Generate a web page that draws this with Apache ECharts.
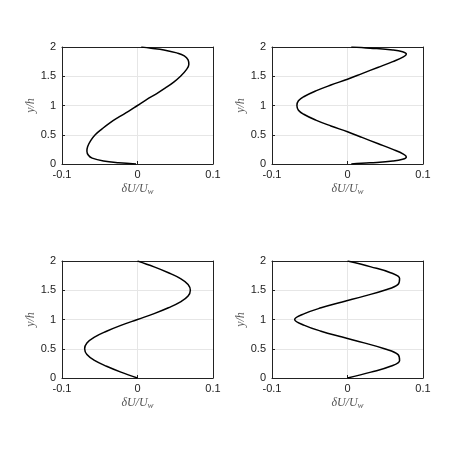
<!DOCTYPE html><html><head><meta charset="utf-8"><script src="https://cdn.jsdelivr.net/npm/echarts@6/dist/echarts.min.js"></script></head><body style="margin:0;background:#fff"><div id="c" style="width:474px;height:451px"></div><script>
const yTL=[0,0.02,0.05,0.1,0.15,0.22,0.3,0.4,0.5,0.6,0.7,0.8,0.9,1.0,1.1,1.2,1.3,1.4,1.5,1.6,1.7,1.78,1.85,1.9,1.95,1.98,2.0];
const xTL=[-0.002,-0.025,-0.045,-0.06,-0.065,-0.067,-0.066,-0.062,-0.056,-0.047,-0.037,-0.025,-0.012,0,0.012,0.025,0.037,0.048,0.057,0.064,0.068,0.067,0.062,0.052,0.035,0.018,0.005];
const yTR=[0,0.02,0.05,0.08,0.12,0.17,0.25,0.35,0.45,0.55,0.65,0.75,0.85,0.92,1.0,1.08,1.15,1.25,1.35,1.45,1.55,1.65,1.75,1.83,1.88,1.92,1.95,1.98,2.0];
const xTR=[0.005,0.03,0.06,0.073,0.078,0.074,0.06,0.04,0.02,0,-0.022,-0.042,-0.058,-0.065,-0.067,-0.065,-0.058,-0.042,-0.022,0,0.02,0.04,0.06,0.074,0.078,0.073,0.06,0.03,0.005];
const yB=[0,0.1,0.2,0.3,0.4,0.5,0.6,0.7,0.8,0.9,1.0,1.1,1.2,1.3,1.4,1.5,1.6,1.7,1.8,1.9,2.0];
const xBL=[0,-0.022,-0.041,-0.057,-0.067,-0.07,-0.067,-0.057,-0.041,-0.022,0,0.022,0.041,0.057,0.067,0.07,0.067,0.057,0.041,0.022,0];
const xBR=[0,0.031,0.057,0.069,0.067,0.049,0.022,-0.007,-0.035,-0.057,-0.07,-0.057,-0.035,-0.007,0.022,0.049,0.067,0.069,0.057,0.031,0];
const xTicks=[-0.1,0,0.1], yTicks=[0,0.5,1,1.5,2];
const panels=[[xTL,yTL,62,47],[xTR,yTR,272,47],[xBL,yB,62,261],[xBR,yB,272,261]];
const lbl={color:'#222',fontSize:11,fontFamily:'Liberation Sans'};
const nm={fontFamily:'Liberation Serif',fontStyle:'italic',fontSize:12,color:'#555'};
const opt={animation:false,grid:[],xAxis:[],yAxis:[],series:[]};
panels.forEach((p,i)=>{
 opt.grid.push({left:p[2],top:p[3],width:151,height:117});
 opt.xAxis.push({type:'value',gridIndex:i,min:-0.1,max:0.1,interval:0.1,name:'δU/U{s|w}',nameLocation:'middle',nameGap:17,nameTextStyle:Object.assign({rich:{s:Object.assign({},nm,{fontSize:9,padding:[6,0,0,0]})}},nm),
  axisLine:{lineStyle:{color:'#222'}},axisTick:{inside:true,length:3},axisLabel:Object.assign({margin:5,formatter:v=>v===0?'0':String(v)},lbl),
  splitLine:{show:true,lineStyle:{color:'#e6e6e6'}}});
 opt.yAxis.push({type:'value',gridIndex:i,min:0,max:2,interval:0.5,name:'y/h',nameLocation:'middle',nameGap:24,nameTextStyle:nm,
  axisLine:{lineStyle:{color:'#222'}},axisTick:{inside:true,length:3},axisLabel:Object.assign({margin:6},lbl),
  splitLine:{show:true,lineStyle:{color:'#e6e6e6'}}});
 opt.xAxis.push({type:'value',gridIndex:i,position:'top',min:-0.1,max:0.1,axisLine:{show:true,onZero:false,lineStyle:{color:'#222'}},axisTick:{show:false},axisLabel:{show:false},splitLine:{show:false}});
 opt.yAxis.push({type:'value',gridIndex:i,position:'right',min:0,max:2,axisLine:{show:true,onZero:false,lineStyle:{color:'#222'}},axisTick:{show:false},axisLabel:{show:false},splitLine:{show:false}});
 opt.series.push({type:'line',xAxisIndex:2*i,yAxisIndex:2*i,smooth:0.4,showSymbol:false,lineStyle:{color:'#000',width:1.5},data:p[0].map((x,k)=>[x,p[1][k]])});
});
opt.xAxis.forEach(a=>{if(a.axisLine)a.axisLine.onZero=false;});
opt.yAxis.forEach(a=>{if(a.axisLine)a.axisLine.onZero=false;});
echarts.init(document.getElementById('c')).setOption(opt);
</script></body></html>
